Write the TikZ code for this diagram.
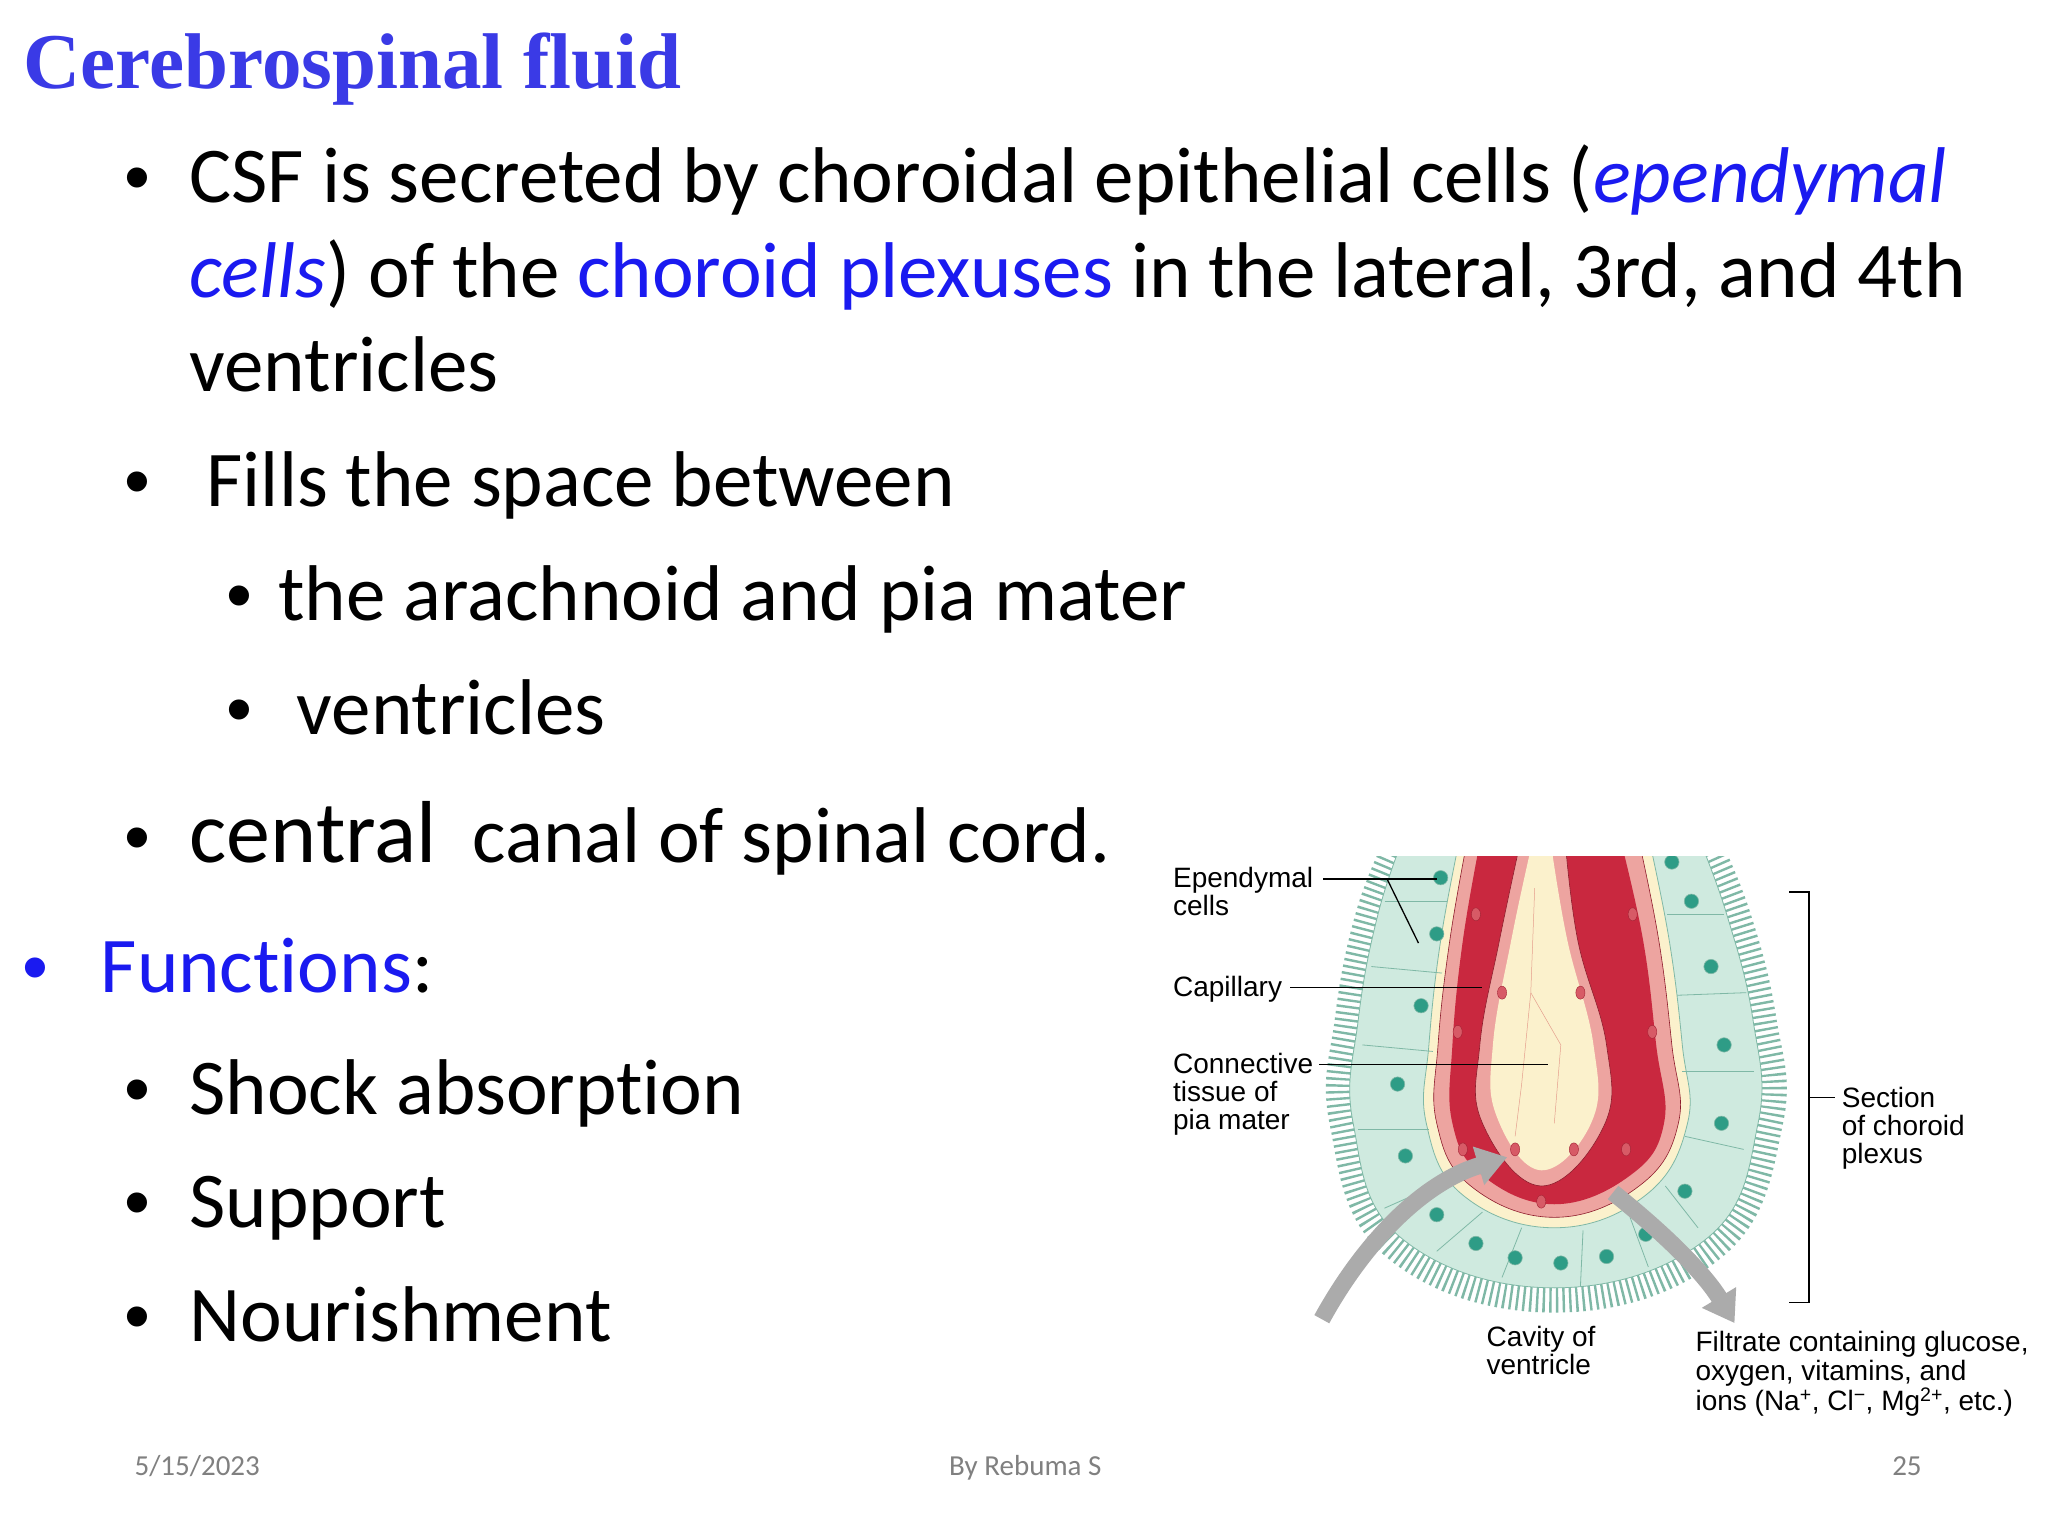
\documentclass[tikz,border=0pt]{standalone}
\usepackage{fontspec}
\setmainfont{Carlito}[Ligatures={NoCommon}]
\newfontfamily\ttl{Liberation Serif}
\newfontfamily\hel{Liberation Sans}
\usetikzlibrary{arrows.meta}
\definecolor{tblue}{HTML}{3A3AE6}
\definecolor{bblue}{HTML}{1A1AF0}
\definecolor{epi}{HTML}{CFEADF}
\definecolor{epid}{HTML}{7FB8A6}
\definecolor{nuc}{HTML}{2E9C86}
\definecolor{cream}{HTML}{FBF1CC}
\definecolor{wall}{HTML}{EDA4A0}
\definecolor{blood}{HTML}{C9283F}
\definecolor{arrg}{HTML}{ABABAB}
\begin{document}
\begin{tikzpicture}[x=1.306pt,y=-1.306pt,
  body/.style={anchor=base west,inner sep=0pt,font=\fontsize{79}{90}\selectfont},
  bul/.style={anchor=base west,inner sep=0pt,font=\hel\fontsize{74}{80}\selectfont},
  lab/.style={anchor=north west,inner sep=0pt,align=left,font=\hel\fontsize{28}{28}\selectfont},
  foot/.style={anchor=base,inner sep=0pt,text=gray,font=\fontsize{29}{34}\selectfont},
  lead/.style={black,line width=1.3pt},
  nucl/.style={fill=nuc,draw=epid,line width=0.6pt}]
\useasboundingbox (0,0) rectangle (1568,1176);
\fill[white] (0,0) rectangle (1568,1176);
% ---- text ----
\node[anchor=base west,inner sep=0pt,text=tblue,font=\ttl\bfseries\fontsize{79}{90}\selectfont] (title) at (18,68) {Cerebrospinal fluid};
\node[bul] (b1) at (95,155) {•};
\node[body] (t1a) at (145,155) {CSF is secreted by choroidal epithelial cells (\textcolor{bblue}{\itshape ependymal}};
\node[body] (t1b) at (145,228) {\textcolor{bblue}{\itshape cells}) of the \textcolor{bblue}{choroid plexuses} in the lateral, 3rd, and 4th};
\node[body] (t1c) at (145,300) {ventricles};
\node[bul] (b2) at (95,388) {•};
\node[body] (t2) at (158,388) {Fills the space between};
\node[bul] (b3) at (173,475) {•};
\node[body] (t3) at (213,475) {the arachnoid and pia mater};
\node[bul] (b4) at (173,562) {•};
\node[body] (t4) at (227,562) {ventricles};
\node[bul] (b5) at (95,660) {•};
\node[body] (t5) at (145,660) {{\fontsize{88}{100}\selectfont central}\ \ canal of spinal cord.};
\node[bul,text=bblue] (b6) at (17,760) {•};
\node[body] (t6) at (77,760) {\textcolor{bblue}{Functions}:};
\node[bul] (b7) at (95,853) {•};
\node[body] (t7) at (145,853) {Shock absorption};
\node[bul] (b8) at (95,940) {•};
\node[body] (t8) at (145,940) {Support};
\node[bul] (b9) at (95,1027) {•};
\node[body] (t9) at (145,1027) {Nourishment};
\node[foot] (f1) at (151,1130) {5/15/2023};
\node[foot] (f2) at (785,1130) {By Rebuma S};
\node[foot] (f3) at (1460,1130) {25};
% ---- diagram ----
\begin{scope}
\clip (900,656) rectangle (1400,1020);
\draw[epid,line width=26pt,dash pattern=on 2.4pt off 4.2pt] plot[smooth,tension=0.7] coordinates {(1072,640)(1048,700)(1032,780)(1028,860)(1068,955)(1190,995)(1312,955)(1355,860)(1350,780)(1330,700)(1305,640)};
\fill[epi,draw=epid,line width=0.8pt] plot[smooth,tension=0.7] coordinates {(1075,640)(1055,700)(1040,780)(1036,860)(1073,948)(1190,986)(1307,948)(1346,860)(1342,780)(1322,700)(1300,640)} -- cycle;
\fill[cream,draw=epid,line width=0.8pt] plot[smooth,tension=0.7] coordinates {(1118,640)(1103,720)(1094,800)(1092,860)(1120,915)(1190,940)(1260,915)(1292,860)(1288,800)(1278,720)(1262,640)} -- cycle;
\fill[wall,draw=blood!70!black,line width=0.6pt] plot[smooth,tension=0.7] coordinates {(1124,640)(1110,720)(1101,800)(1100,860)(1126,908)(1190,932)(1255,908)(1285,860)(1280,800)(1270,720)(1254,640)} -- cycle;
\fill[blood] plot[smooth,tension=0.7] coordinates {(1134,640)(1120,720)(1112,800)(1112,860)(1135,900)(1190,922)(1248,900)(1274,860)(1268,800)(1258,720)(1240,640)} -- cycle;
\fill[wall,draw=blood!70!black,line width=0.6pt] plot[smooth,tension=0.7] coordinates {(1165,640)(1148,720)(1133,800)(1135,860)(1180,908)(1228,862)(1230,800)(1208,720)(1198,640)} -- cycle;
\fill[cream] plot[smooth,tension=0.7] coordinates {(1172,650)(1157,720)(1143,800)(1146,855)(1180,896)(1219,858)(1220,800)(1200,720)(1188,650)} -- cycle;
\draw[wall!80!brown,line width=0.5pt] (1175,680) -- (1172,760) -- (1165,830) (1172,760) -- (1195,800) -- (1190,860) (1165,830) -- (1160,870);
\foreach \a/\b/\c/\d in {1060/690/1108/690,1050/740/1104/745,1043/800/1097/805,1040/865/1094/865,1060/925/1105/905,1100/958/1135/928,1150/978/1165/940,1210/985/1212/942,1262/970/1248/932,1300/940/1275/908,1335/880/1290/870,1343/820/1288/820,1337/760/1284/762,1320/700/1276/700}
  \draw[epid,line width=0.8pt] (\a,\b) -- (\c,\d);
\foreach \p in {(1103,672),(1100,715),(1088,770),(1070,830),(1076,885),(1100,930),(1130,952),(1160,963),(1195,967),(1230,962),(1260,945),(1290,912),(1318,860),(1320,800),(1310,740),(1295,690),(1280,660)}
  \draw[nucl] \p circle (5.5);
\foreach \p in {(1130,700),(1116,790),(1120,880),(1180,920),(1245,880),(1265,790),(1250,700),(1150,760),(1210,760),(1160,880),(1205,880)}
  \fill[blood!60!wall,draw=blood!80!black,line width=0.4pt] \p ellipse (3.5 and 5);
\end{scope}
% grey arrows
\coordinate (la0) at (1012,1010); \coordinate (la1) at (1154,886);
\coordinate (ra0) at (1235,913); \coordinate (ra1) at (1328,1013);
\draw[arrg,line width=17pt,-{Triangle[width=38pt,length=30pt]}] (la0) .. controls (1045,950) and (1090,905) .. (la1);
\draw[arrg,line width=17pt,-{Triangle[width=38pt,length=30pt]}] (ra0) .. controls (1275,945) and (1305,975) .. (ra1);
% labels
\node[lab] (ep) at (898,664) {Ependymal\\cells};
\coordinate (epj) at (1062,673); \coordinate (epe1) at (1100,673); \coordinate (epe2) at (1086,722);
\draw[lead] (1013,673) -- (epj) -- (epe1); \draw[lead] (epj) -- (epe2);
\node[lab] (cap) at (898,747) {Capillary};
\coordinate (cape) at (1135,756);
\draw[lead] (988,756) -- (cape);
\node[lab] (ct) at (898,806) {Connective\\tissue of\\pia mater};
\coordinate (cte) at (1185,815);
\draw[lead] (1010,815) -- (cte);
\coordinate (bt) at (1385,683); \coordinate (bb) at (1385,997);
\draw[lead] (1370,683) -- (bt) -- (bb) -- (1370,997);
\draw[lead] (1385,840) -- (1405,840);
\node[lab] (sec) at (1410,832) {Section\\of choroid\\plexus};
\node[lab] (cav) at (1138,1015) {Cavity of\\ventricle};
\node[lab,font=\hel\fontsize{28}{29.5}\selectfont] (fil) at (1298,1019) {Filtrate containing glucose,\\oxygen, vitamins, and\\ions (Na\textsuperscript{+}, Cl\textsuperscript{\textminus}, Mg\textsuperscript{2+}, etc.)};
\end{tikzpicture}
\end{document}
